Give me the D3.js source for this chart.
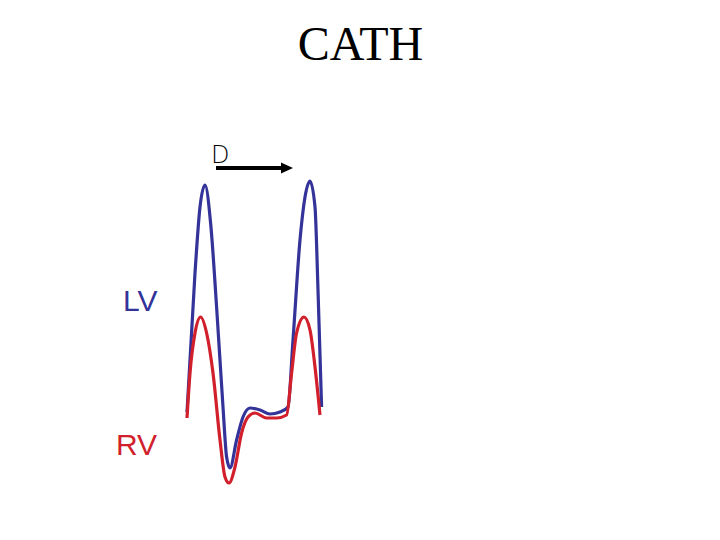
<!DOCTYPE html>
<html>
<head>
<meta charset="utf-8">
<script src="https://cdn.jsdelivr.net/npm/d3@7"></script>
<style>
  body { margin: 0; background: #fff; }
  svg { display: block; }
</style>
</head>
<body>
<svg id="chart" width="720" height="540"></svg>
<script>
// pressure traces (time in ms, pressure in mmHg-ish units)
const lvTime = [0, 40, 65, 90, 118, 148, 180, 198, 215, 248, 280, 315, 365, 415, 465, 505, 530, 565, 590, 615, 640, 655, 673]
const lvPressure = [4, 73.5, 106.5, 117.5, 98.5, 56.5, 6.5, -18.5, -24, -10, 1.5, 6, 5, 3, 4, 6.5, 40, 90, 111.5, 119.5, 106.5, 65, 6.5]

const rvTime = [0, 15, 40, 68, 98, 130, 165, 190, 210, 240, 273, 305, 340, 398, 448, 498, 523, 548, 585, 615, 640, 665]
const rvPressure = [1, 23.5, 43.5, 51.5, 43.5, 23.5, -10, -28.5, -31.5, -23.5, -6.5, 1.5, 3.5, 1, 1, 2.5, 23.5, 43.5, 51.5, 45, 26.5, 2.5]

// the "D" interval arrow
const arrowTime = [145, 530]
const arrowPressure = 126

const blue = "#333399"
const red = "#d11f2c"

const svg = d3.select("#chart")

const x = d3.scaleLinear().domain([0, 675]).range([187, 322])
const y = d3.scaleLinear().domain([-40, 130]).range([500, 160])

svg.append("text")
    .attr("x", 360.5).attr("y", 60)
    .attr("text-anchor", "middle")
    .attr("font-family", "Liberation Serif, Times New Roman, serif")
    .attr("font-size", 48)
    .attr("fill", "#000")
    .text("CATH")

const line = d3.line()
    .x(d => x(d[0]))
    .y(d => y(d[1]))
    .curve(d3.curveMonotoneX)

const traces = [
    { name: "LV", t: lvTime, p: lvPressure, color: blue },
    { name: "RV", t: rvTime, p: rvPressure, color: red }
]

svg.selectAll("path.trace")
    .data(traces)
    .join("path")
    .attr("class", "trace")
    .attr("d", d => line(d3.zip(d.t, d.p)))
    .attr("fill", "none")
    .attr("stroke", d => d.color)
    .attr("stroke-width", 3.2)
    .attr("stroke-linejoin", "round")

// labels
svg.append("text")
    .attr("x", 123).attr("y", 311)
    .attr("font-family", "Liberation Sans, Arial, sans-serif")
    .attr("font-size", 30)
    .attr("fill", blue)
    .text("LV")

svg.append("text")
    .attr("x", 116).attr("y", 455)
    .attr("font-family", "Liberation Sans, Arial, sans-serif")
    .attr("font-size", 30)
    .attr("fill", red)
    .text("RV")

// arrow
const ax0 = x(arrowTime[0]), ax1 = x(arrowTime[1]), ay = y(arrowPressure)

svg.append("line")
    .attr("x1", ax0).attr("y1", ay)
    .attr("x2", ax1 - 8).attr("y2", ay)
    .attr("stroke", "#000")
    .attr("stroke-width", 4)

svg.append("path")
    .attr("d", `M${ax1},${ay} L${ax1 - 12},${ay - 5.5} L${ax1 - 12},${ay + 5.5} Z`)
    .attr("fill", "#000")

svg.append("text")
    .attr("x", 211).attr("y", 163)
    .attr("font-family", "DejaVu Sans, sans-serif")
    .attr("font-weight", 200)
    .attr("font-size", 24)
    .attr("fill", "#000")
    .text("D")
</script>
</body>
</html>
